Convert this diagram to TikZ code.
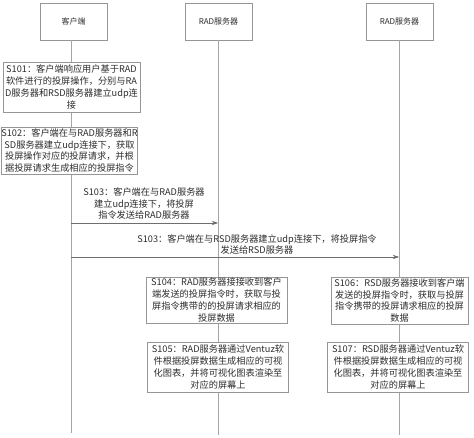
\documentclass[tikz,border=0pt]{standalone}
\usepackage{fontspec}
\setmainfont{Noto Sans CJK SC}
\usetikzlibrary{arrows.meta}
\definecolor{boxc}{RGB}{150,150,150}
\definecolor{linec}{RGB}{165,165,165}
\definecolor{msgc}{RGB}{110,110,110}
\definecolor{txtc}{RGB}{45,45,45}
\begin{document}
\begin{tikzpicture}[x=1pt,y=-1pt,
  head/.style={draw=boxc, fill=white, line width=0.6pt, minimum width=67pt, minimum height=37pt, inner sep=0pt, font=\fontsize{8}{10}\selectfont, text=txtc},
  stepbox/.style={draw=boxc, fill=white, line width=0.6pt, inner sep=0pt, align=center, font=\fontsize{9.2}{11.7}\selectfont, text=txtc},
  life/.style={draw=linec, line width=0.6pt},
  msg/.style={draw=msgc, line width=0.6pt, -{Stealth[length=6pt,width=4pt,fill=black]}},
  lbl/.style={align=center, font=\fontsize{9.2}{11.7}\selectfont, text=txtc, inner sep=0pt}]
\useasboundingbox[fill=white] (0,0) rectangle (474,438);

% lifeline ends
\coordinate (cl) at (71,433);
\coordinate (rl) at (218,435);
\coordinate (sl) at (399,435);

% heads
\node[head] (c) at (73.5,21.5) {客户端};
\node[head] (r) at (218.5,21.5) {RAD服务器};
\node[head] (s) at (399.5,21.5) {RAD服务器};

% lifelines
\draw[life] (c.south -| cl) -- (cl);
\draw[life] (r.south -| rl) -- (rl);
\draw[life] (s.south -| sl) -- (sl);

% client steps
\node[stepbox, minimum width=137pt, minimum height=50pt] (s101) at (71.5,87) {S101：客户端响应用户基于RAD\\软件进行的投屏操作，分别与RA\\D服务器和RSD服务器建立udp连\\接};
\node[stepbox, minimum width=133pt, minimum height=47pt] (s102) at (69.5,150.5) {S102：客户端在与RAD服务器和R\\SD服务器建立udp连接下，获取\\投屏操作对应的投屏请求，并根\\据投屏请求生成相应的投屏指令};

% messages
\coordinate (a1s) at (71,223);
\coordinate (a1e) at (218,223);
\coordinate (a2s) at (71,257);
\coordinate (a2e) at (399,257);
\draw[msg] (a1s) -- (a1e);
\draw[msg] (a2s) -- (a2e);
\node[lbl] (l1) at (144,203.5) {S103：客户端在与RAD服务器\\建立udp连接下，将投屏\\指令发送给RAD服务器};
\node[lbl] (l2) at (257,244.5) {S103：客户端在与RSD服务器建立udp连接下，将投屏指令\\发送给RSD服务器};

% server steps
\node[stepbox, minimum width=141pt, minimum height=46pt] (s104) at (216.5,300) {S104：RAD服务器接接收到客户\\端发送的投屏指令时，获取与投\\屏指令携带的的投屏请求相应的\\投屏数据};
\node[stepbox, minimum width=141pt, minimum height=50pt] (s105) at (218,367) {S105：RAD服务器通过Ventuz软\\件根据投屏数据生成相应的可视\\化图表，并将可视化图表渲染至\\对应的屏幕上};
\node[stepbox, minimum width=137pt, minimum height=47pt] (s106) at (399.5,300.5) {S106：RSD服务器接收到客户端\\发送的投屏指令时，获取与投屏\\指令携带的投屏请求相应的投屏\\数据};
\node[stepbox, minimum width=141pt, minimum height=50pt] (s107) at (398,367) {S107：RSD服务器通过Ventuz软\\件根据投屏数据生成相应的可视\\化图表，并将可视化图表渲染至\\对应的屏幕上};
\end{tikzpicture}
\end{document}
